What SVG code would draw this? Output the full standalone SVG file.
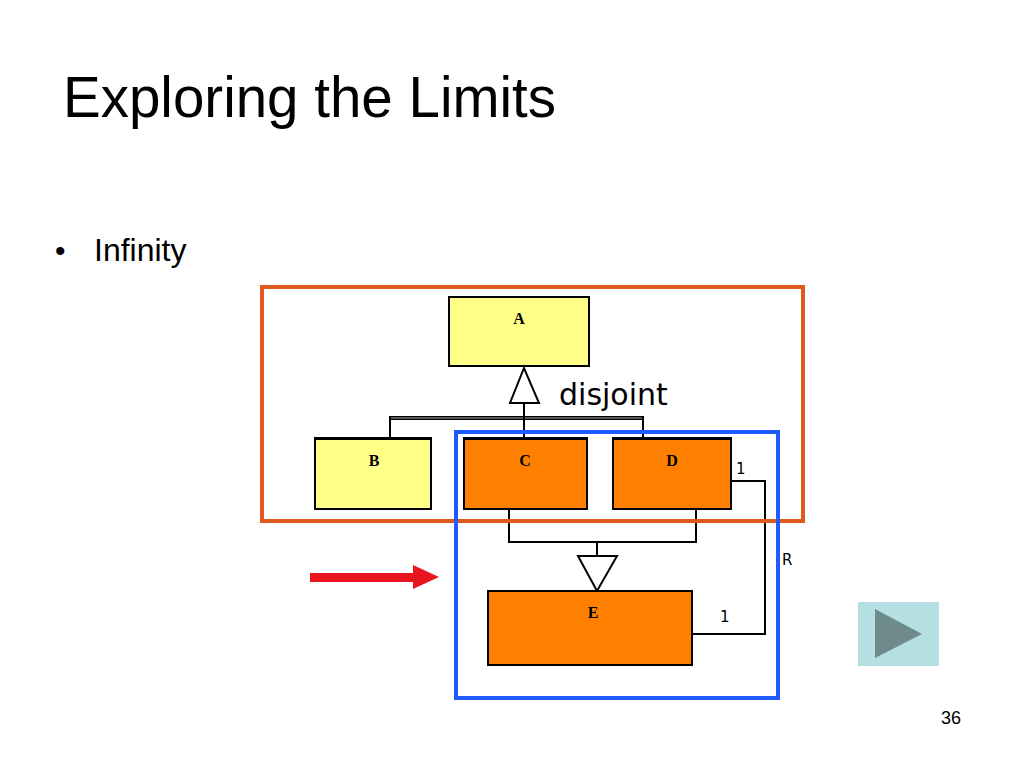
<svg xmlns="http://www.w3.org/2000/svg" width="1024" height="768" viewBox="0 0 1024 768">
<style>
.box{stroke:#000;stroke-width:2}
.y{fill:#FFFF88}
.o{fill:#FF8000}
.lbl{font-family:"Liberation Serif",serif;font-weight:bold;font-size:16px;text-anchor:middle;fill:#000}
.ln{fill:none;stroke:#000;stroke-width:2}
.sm{font-family:"DejaVu Sans",sans-serif;font-size:15px;fill:#000}
</style>
<rect width="1024" height="768" fill="#fff"/>
<text x="63" y="117" font-family="Liberation Sans, Arial, sans-serif" font-size="56.5" fill="#000">Exploring the Limits</text>
<text x="55" y="261" font-family="Liberation Sans, Arial, sans-serif" font-size="30" fill="#000">•</text>
<text x="94" y="261" font-family="Liberation Sans, Arial, sans-serif" font-size="32" fill="#000">Infinity</text>

<g id="connectors">
<line x1="389" y1="418" x2="644" y2="418" stroke="#000" stroke-width="4"/>
<line x1="391" y1="418" x2="642" y2="418" stroke="#aaa" stroke-width="1.2"/>
<line class="ln" x1="390" y1="417" x2="390" y2="438"/>
<line class="ln" x1="643" y1="417" x2="643" y2="438"/>
<line class="ln" x1="524" y1="403" x2="524" y2="438"/>
<polygon points="524,368 510,403 539,403" fill="#fff" stroke="#000" stroke-width="2"/>
<polyline class="ln" points="509,509 509,542 696,542 696,509"/>
<line class="ln" x1="597" y1="542" x2="597" y2="556"/>
<polygon points="578,556 617,556 597,591" fill="#fff" stroke="#000" stroke-width="2"/>
<polyline class="ln" points="731,481 765,481 765,634 692,634"/>
<text class="sm" x="736" y="474">1</text>
<text class="sm" x="782" y="565">R</text>
<text class="sm" x="720" y="622">1</text>
</g>

<g id="A">
<rect class="box y" x="449" y="297" width="140" height="69"/>
<text class="lbl" x="519" y="324">A</text>
</g>
<g id="B">
<rect class="box y" x="315" y="438" width="116" height="71"/>
<line x1="315" y1="438.5" x2="431" y2="438.5" stroke="#000" stroke-width="3"/>
<text class="lbl" x="374" y="466">B</text>
</g>
<g id="C">
<rect class="box o" x="464" y="438" width="123" height="71"/>
<line x1="464" y1="438.5" x2="587" y2="438.5" stroke="#000" stroke-width="3"/>
<text class="lbl" x="525" y="466">C</text>
</g>
<g id="D">
<rect class="box o" x="613" y="438" width="118" height="71"/>
<line x1="613" y1="438.5" x2="731" y2="438.5" stroke="#000" stroke-width="3"/>
<text class="lbl" x="672" y="466">D</text>
</g>
<g id="E">
<rect class="box o" x="488" y="591" width="204" height="74"/>
<text class="lbl" x="593" y="618">E</text>
</g>

<text x="559" y="405" font-family="DejaVu Sans, sans-serif" font-size="30" fill="#000">disjoint</text>

<rect x="262" y="287" width="541" height="234" fill="none" stroke="#E0581A" stroke-width="4"/>
<rect x="456" y="432" width="322" height="266" fill="none" stroke="#1F5BFF" stroke-width="4"/>

<g id="red-arrow">
<rect x="310" y="573" width="105" height="9" fill="#E8141E"/>
<polygon points="413,565 439,577 413,589" fill="#E8141E"/>
</g>

<g id="play">
<rect x="858" y="602" width="81" height="64" fill="#B4E0E4"/>
<polygon points="875,609 922,634 875,658" fill="#6F8A8A"/>
</g>

<text x="961" y="724" font-family="Liberation Sans, Arial, sans-serif" font-size="18" text-anchor="end" fill="#000">36</text>
</svg>
